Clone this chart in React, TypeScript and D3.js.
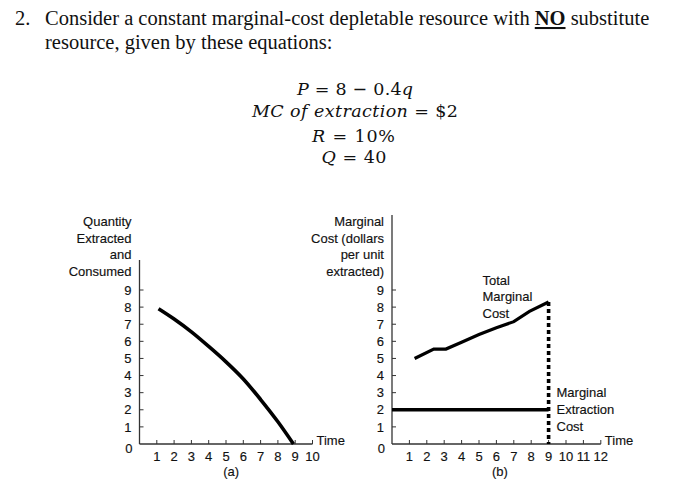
import * as d3 from "d3";

// panel (a): quantity extracted over time
const timeTicksA = [1, 2, 3, 4, 5, 6, 7, 8, 9, 10];
const valueTicks = [1, 2, 3, 4, 5, 6, 7, 8, 9];
const quantityT = [1.1, 2, 3, 4, 5, 6, 7, 8, 8.9];
const quantityV = [7.9, 7.3, 6.55, 5.7, 4.8, 3.8, 2.6, 1.3, 0];

// panel (b): marginal costs over time
const timeTicksB = [1, 2, 3, 4, 5, 6, 7, 8, 9, 10, 11, 12];
const tmcT = [1.3, 2.4, 3.1, 4, 5, 6, 7, 7.9, 9];
const tmcV = [5.0, 5.55, 5.55, 5.95, 6.4, 6.8, 7.15, 7.75, 8.3];
const mecT = [0, 9];
const mecV = [2, 2];
const depletionTime = 9;

const yTitleA = ["Quantity", "Extracted", "and", "Consumed"];
const yTitleB = ["Marginal", "Cost (dollars", "per unit", "extracted)"];
const tmcLabel = ["Total", "Marginal", "Cost"];
const mecLabel = ["Marginal", "Extraction", "Cost"];

const sans = "'Liberation Sans', Arial, sans-serif";
const serif = "'Liberation Serif', 'Times New Roman', serif";
const mathSerif = "'DejaVu Serif', serif";
const axisColor = "#333";
const textColor = "#111";

type AxesProps = {
  x: d3.ScaleLinear<number, number>;
  y: d3.ScaleLinear<number, number>;
  xTicks: number[];
  yTop: number;
  title: string[];
  caption: string;
  captionAt: number;
};

function Axes({ x, y, xTicks, yTop, title, caption, captionAt }: AxesProps) {
  const x0 = x(0);
  const y0 = y(0);
  const xEnd = x(xTicks[xTicks.length - 1]);
  return (
    <g fontFamily={sans} fontSize={13} fill={textColor} stroke={textColor} strokeWidth={0.15}>
      <line x1={x0} x2={x0} y1={yTop} y2={y0} stroke={axisColor} strokeWidth={1.3} />
      <line x1={x0} x2={xEnd} y1={y0} y2={y0} stroke={axisColor} strokeWidth={1.3} />
      {valueTicks.map((v) => (
        <g key={v}>
          <line x1={x0} x2={x0 + 4} y1={y(v)} y2={y(v)} stroke={axisColor} strokeWidth={1} />
          <text x={x0 - 8} y={y(v)} dy="0.36em" textAnchor="end">
            {v}
          </text>
        </g>
      ))}
      {xTicks.map((t) => (
        <g key={t}>
          <line x1={x(t)} x2={x(t)} y1={y0} y2={y0 - 4} stroke={axisColor} strokeWidth={1} />
          <text x={x(t)} y={y0 + 17} textAnchor="middle">
            {t}
          </text>
        </g>
      ))}
      <text x={x0 - 7} y={y0 + 9} textAnchor="end">
        0
      </text>
      <text x={xEnd + 4} y={y0 + 1}>
        Time
      </text>
      <text x={x(captionAt)} y={y0 + 32} textAnchor="middle">
        {caption}
      </text>
      {title.map((s, i) => (
        <text key={s} x={x0 - 8} y={226 + i * 16.7} textAnchor="end">
          {s}
        </text>
      ))}
    </g>
  );
}

export default function App() {
  const yScale = d3.scaleLinear().domain([0, 9]).range([444, 290]);
  const xA = d3.scaleLinear().domain([0, 10]).range([139.5, 312.5]);
  const xB = d3.scaleLinear().domain([0, 12]).range([392, 600.8]);

  const quantity = quantityT.map((t, i) => [t, quantityV[i]] as [number, number]);
  const tmc = tmcT.map((t, i) => [t, tmcV[i]] as [number, number]);
  const mec = mecT.map((t, i) => [t, mecV[i]] as [number, number]);

  const lineA = d3
    .line<[number, number]>()
    .x((d) => xA(d[0]))
    .y((d) => yScale(d[1]))
    .curve(d3.curveMonotoneX);
  const lineB = d3
    .line<[number, number]>()
    .x((d) => xB(d[0]))
    .y((d) => yScale(d[1]));

  const tmcEnd = tmcV[tmcV.length - 1];

  return (
    <svg
      width={700}
      height={496}
      style={{ position: "absolute", left: 0, top: 0, background: "#fff" }}
    >
      {/* question text */}
      <g fontFamily={serif} fontSize={20.5} fill="#111">
        <text x={15} y={25}>2.</text>
        <text x={45} y={25}>
          Consider a constant marginal-cost depletable resource with{" "}
          <tspan fontWeight="bold" textDecoration="underline">NO</tspan> substitute
        </text>
        <text x={45} y={48.5}>resource, given by these equations:</text>
      </g>
      <g
        fontFamily={mathSerif}
        fontSize={17.5}
        fill="#111"
        textAnchor="middle"
        style={{ whiteSpace: "pre" }}
      >
        <text x={355} y={95} textLength={116} lengthAdjust="spacing">
          <tspan fontStyle="italic">P</tspan>{"  = 8 − 0.4"}<tspan fontStyle="italic">q</tspan>
        </text>
        <text x={355} y={116.5} textLength={206} lengthAdjust="spacing">
          <tspan fontStyle="italic">{"MC of extraction"}</tspan>{"  = $2"}
        </text>
        <text x={353.5} y={141.5} textLength={83} lengthAdjust="spacing">
          <tspan fontStyle="italic">R</tspan>{"  = 10%"}
        </text>
        <text x={354} y={163} textLength={65} lengthAdjust="spacing">
          <tspan fontStyle="italic">Q</tspan>{"  = 40"}
        </text>
      </g>

      {/* panel (a) */}
      <Axes x={xA} y={yScale} xTicks={timeTicksA} yTop={260} title={yTitleA} caption="(a)" captionAt={5.3} />
      <path d={lineA(quantity) ?? ""} fill="none" stroke="#000" strokeWidth={3.6} />

      {/* panel (b) */}
      <Axes x={xB} y={yScale} xTicks={timeTicksB} yTop={215} title={yTitleB} caption="(b)" captionAt={6.2} />
      <path d={lineB(tmc) ?? ""} fill="none" stroke="#000" strokeWidth={3.2} />
      <path d={lineB(mec) ?? ""} fill="none" stroke="#000" strokeWidth={3.4} />
      <line
        x1={xB(depletionTime)}
        x2={xB(depletionTime)}
        y1={yScale(tmcEnd)}
        y2={yScale(0)}
        stroke="#000"
        strokeWidth={3.6}
        strokeDasharray="4 3"
      />
      <g fontFamily={sans} fontSize={13} fill={textColor} stroke={textColor} strokeWidth={0.15}>
        {tmcLabel.map((s, i) => (
          <text key={s} x={482.5} y={284.5 + i * 16.6}>
            {s}
          </text>
        ))}
        {mecLabel.map((s, i) => (
          <text key={s} x={556.5} y={397 + i * 17}>
            {s}
          </text>
        ))}
      </g>
    </svg>
  );
}
